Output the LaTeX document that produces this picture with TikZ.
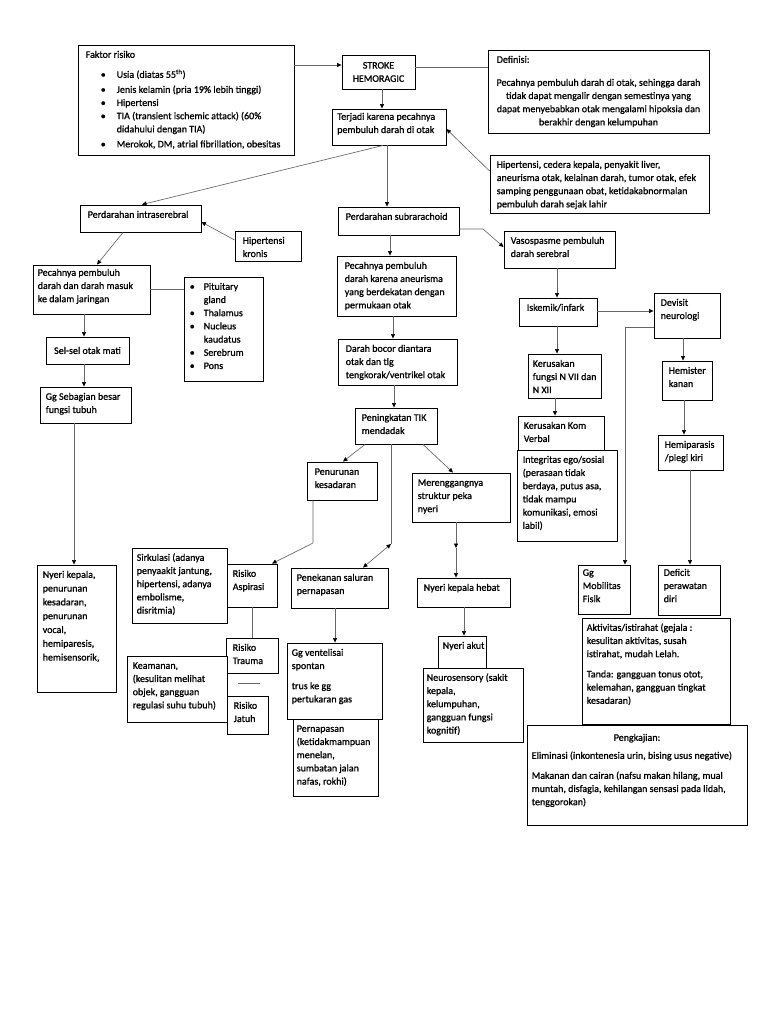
\documentclass[tikz,border=0pt]{standalone}
\usepackage{fontspec}
\setmainfont{Carlito}[FakeBold=0.9]
\usetikzlibrary{arrows.meta}
\newcommand\mytx[1]{\begin{tabular}[t]{@{}l@{}}#1\end{tabular}}
\newcommand\mytxc[1]{\begin{tabular}[t]{@{}c@{}}#1\end{tabular}}
\newcommand\mybul{\hspace*{15pt}\makebox[16pt][l]{\textbullet}}
\newcommand\myind{\hspace*{31pt}}
\newcommand\mypb{\makebox[14pt][l]{\textbullet}}
\newcommand\mypind{\hspace*{14pt}}
\newcommand\mybox[7][]{\node[box,minimum width={#5pt-#3pt},minimum height={#6pt-#4pt},label={[tl,#1]north west:{\mytx{#7}}}] (#2) at ({(#3+#5)/2},{(#4+#6)/2}) {};}
\begin{document}
\begin{tikzpicture}[x=1pt,y=-1pt,
  every node/.style={font=\fontsize{10}{13.2}\selectfont},
  box/.style={draw=black,line width=0.9pt,rectangle,inner sep=0pt,fill=white},
  tl/.style={anchor=north west,inner sep=0pt,xshift=7pt,yshift=-3.8pt},
  ln/.style={draw=black!60,line width=0.65pt},
  arr/.style={ln,-{Triangle[length=4.5pt,width=4pt,color=black]}},
  arr2/.style={ln,{Triangle[length=4.5pt,width=4pt,color=black]}-{Triangle[length=4.5pt,width=4pt,color=black]}}]
\fill[white] (0,0) rectangle (768,1024);
\useasboundingbox (0,0) rectangle (768,1024);

% top
\mybox[xshift=1pt]{faktor}{78}{45}{294}{155}{Faktor risiko\\[6.8pt]
\mybul Usia (diatas 55\textsuperscript{th})\\[1.8pt]
\mybul Jenis kelamin (pria 19\% lebih tinggi)\\
\mybul Hipertensi\\
\mybul TIA (transient ischemic attack) (60\%\\
\myind didahului dengan TIA)\\[1.8pt]
\mybul Merokok, DM, atrial fibrillation, obesitas}
\node[box,minimum width=73pt,minimum height=34pt,align=center] (stroke) at (378.5,72) {STROKE\\HEMORAGIC};
\node[box,minimum width=221pt,minimum height=83pt,
  label={[tl,xshift=2pt]north west:{\mytx{Definisi:}}},
  label={[anchor=north,inner sep=0pt,yshift=-26.8pt]north:{\mytxc{Pecahnya pembuluh darah di otak, sehingga darah\\
  tidak dapat mengalir dengan semestinya yang\\
  dapat menyebabkan otak mengalami hipoksia dan\\
  berakhir dengan kelumpuhan}}}] (defin) at (598.5,91.5) {};
\mybox[xshift=-1.5pt,yshift=2pt]{terjadi}{332}{109}{446}{145}{Terjadi karena pecahnya\\pembuluh darah di otak}
\mybox{hipert}{490}{155}{709}{213}{Hipertensi, cedera kepala, penyakit liver,\\
aneurisma otak, kelainan darah, tumor otak, efek\\
samping penggunaan obat, ketidakabnormalan\\
pembuluh darah sejak lahir}

% left column
\mybox[xshift=1pt]{intra}{80}{205}{201}{232}{Perdarahan intraserebral}
\mybox[xshift=1pt]{kronis}{235}{231}{301}{261}{Hipertensi\\kronis}
\mybox[xshift=-2pt,yshift=2pt]{pecah1}{33}{265}{150}{314}{Pecahnya pembuluh\\darah dan darah masuk\\ke dalam jaringan}
\mybox[xshift=-1pt]{pitu}{184}{277}{263}{381}{\mypb Pituitary\\\mypind gland\\\mypb Thalamus\\\mypb Nucleus\\\mypind kaudatus\\\mypb Serebrum\\\mypb Pons}
\node[box,minimum width=83pt,minimum height=27pt] (selsel) at (87.5,350.5) {Sel-sel otak mati};
\mybox[xshift=-1pt]{ggseb}{40}{387}{131}{423}{Gg Sebagian besar\\fungsi tubuh}
\mybox[xshift=-1pt]{nyerik}{37}{565}{116}{692}{Nyeri kepala,\\[0.6pt]penurunan\\[0.6pt]kesadaran,\\[0.6pt]penurunan\\[0.6pt]vocal,\\[0.6pt]hemiparesis,\\[0.6pt]hemisensorik,}

% middle column
\mybox[xshift=1pt]{subra}{338}{207}{459}{235}{Perdarahan subrarachoid}
\mybox[xshift=1pt]{pecah2}{337}{256}{456}{316}{Pecahnya pembuluh\\darah karena aneurisma\\yang berdekatan dengan\\permukaan otak}
\mybox[xshift=1pt]{bocor}{338}{339}{457}{385}{Darah bocor diantara\\otak dan tlg\\tengkorak/ventrikel otak}
\mybox{tik}{355}{408}{437}{444}{Peningkatan TIK\\mendadak}
\mybox[xshift=1pt]{penur}{307}{462}{377}{500}{Penurunan\\kesadaran}
\mybox[xshift=-1pt]{mereng}{412}{473}{510}{522}{Merenggangnya\\struktur peka\\nyeri}
\mybox{hebat}{417}{578}{510}{607}{Nyeri kepala hebat}
\mybox[xshift=-2pt]{akut}{438}{636}{486}{668}{Nyeri akut}
\mybox[xshift=-3pt]{neuro}{423}{668}{523}{742}{Neurosensory (sakit\\kepala,\\kelumpuhan,\\gangguan fungsi\\kognitif)}
\mybox[xshift=-1pt]{peneka}{291}{568}{388}{608}{Penekanan saluran\\pernapasan}
\mybox[xshift=-2pt]{ggvent}{287}{643}{382}{719}{Gg ventelisai\\spontan\\[7pt]trus ke gg\\pertukaran gas}
\mybox[xshift=-3pt]{perna}{293}{719}{378}{796}{Pernapasan\\(ketidakmampuan\\menelan,\\sumbatan jalan\\nafas, rokhi)}
\mybox[xshift=-1pt]{aspir}{227}{564}{277}{607}{Risiko\\Aspirasi}
\mybox[xshift=-2pt]{sirk}{132}{548}{227}{623}{Sirkulasi (adanya\\penyaakit jantung,\\hipertensi, adanya\\embolisme,\\disritmia)}
\mybox{trauma}{226}{638}{278}{673}{Risiko\\Trauma}
\mybox{jatuh}{227}{696}{268}{734}{Risiko\\Jatuh}
\mybox[xshift=-1pt]{keam}{127}{656}{227}{722}{Keamanan,\\(kesulitan melihat\\objek, gangguan\\regulasi suhu tubuh)}

% right column
\mybox{vaso}{504}{231}{615}{268}{Vasospasme pembuluh\\darah serebral}
\mybox[xshift=1pt]{iskem}{519}{298}{597}{326}{Iskemik/infark}
\mybox{devis}{654}{293}{720}{338}{Devisit\\neurologi}
\mybox[xshift=-2pt]{kerus}{528}{354}{601}{398}{Kerusakan\\fungsi N VII dan\\N XII}
\mybox[xshift=-1pt]{kom}{518}{416}{604}{450}{Kerusakan Kom\\Verbal}
\mybox[xshift=-1pt]{integ}{517}{450}{617}{541}{Integritas ego/sosial\\(perasaan tidak\\berdaya, putus asa,\\tidak mampu\\komunikasi, emosi\\labil)}
\mybox{hemis}{662}{361}{712}{400}{Hemister\\kanan}
\mybox{hemip}{658}{435}{723}{470}{Hemiparasis\\/plegi kiri}
\mybox[xshift=-2pt,yshift=2pt]{mobil}{578}{565}{630}{614}{Gg\\Mobilitas\\Fisik}
\mybox[xshift=-1pt,yshift=2pt]{defic}{658}{565}{720}{615}{Deficit\\perawatan\\diri}
\mybox[xshift=-2pt]{aktiv}{582}{618}{730}{724}{Aktivitas/istirahat (gejala :\\kesulitan aktivitas, susah\\istirahat, mudah Lelah.\\[7pt]Tanda: gangguan tonus otot,\\kelemahan, gangguan tingkat\\kesadaran)}
\node[box,minimum width=220pt,minimum height=100pt,
  label={[anchor=north,inner sep=0pt,yshift=-6.8pt]north:{\mytxc{Pengkajian:}}},
  label={[tl,xshift=-2pt,yshift=-21pt]north west:{\mytx{Eliminasi (inkontenesia urin, bising usus negative)\\[6.8pt]
  Makanan dan cairan (nafsu makan hilang, mual\\
  muntah, disfagia, kehilangan sensasi pada lidah,\\
  tenggorokan)}}}] (pengk) at (637,775) {};

% connectors
\draw[arr] (faktor.east |- 0,65) -- (stroke.west |- 0,65);
\draw[ln] (stroke.east |- 0,67) -- (defin.west |- 0,67);
\draw[arr] (stroke.south -| 382,0) -- (terjadi.north -| 382,0);
\draw[arr] (hipert.west |- 0,171) -- (terjadi.east |- 0,129);
\draw[arr] (terjadi.south -| 383,0) -- (intra.north -| 142,0);
\draw[arr] (terjadi.south -| 387,0) -- (subra.north -| 387,0);
\draw[arr] (kronis.west |- 0,240) -- (intra.east |- 0,222);
\draw[arr] (intra.south -| 123,0) -- (pecah1.north -| 97,0);
\draw[ln] (pecah1.east |- 0,289) -- (pitu.west |- 0,289);
\draw[arr] (pecah1.south -| 84,0) -- (selsel.north -| 84,0);
\draw[arr] (selsel.south -| 84,0) -- (ggseb.north -| 84,0);
\draw[arr] (ggseb.south -| 74,0) -- (nyerik.north -| 74,0);
\draw[arr] (subra.south -| 390,0) -- (pecah2.north -| 390,0);
\draw[arr] (pecah2.south -| 393,0) -- (bocor.north -| 393,0);
\draw[arr] (bocor.south -| 394,0) -- (tik.north -| 394,0);
\draw[arr] (tik.south -| 365,0) -- (penur.north -| 343,0);
\coordinate (c1) at (391,544);
\draw[ln] (tik.south -| 391,0) -- (c1);
\draw[arr2] (c1) -- (peneka.north -| 363,0);
\draw[arr] (tik.south -| 423,0) -- (mereng.north -| 453,0);
\coordinate (c2) at (456,548);
\draw[arr] (mereng.south -| 456,0) -- (c2);
\draw[arr] (c2) -- (hebat.north -| 456,0);
\draw[arr] (hebat.south -| 464,0) -- (akut.north -| 464,0);
\coordinate (c3) at (313,543);
\draw[arr] (penur.south -| 313,0) -- (c3) -- (aspir.north -| 272,0);
\draw[ln] (aspir.south) -- (trauma.north);
\draw[ln] (238,683) -- (260,683);
\draw[arr] (peneka.south -| 335,0) -- (ggvent.north -| 335,0);
\coordinate (c4) at (483,229);
\draw[arr] (subra.east |- c4) -- (c4) -- (vaso.west |- 0,247);
\draw[arr] (vaso.south -| 557,0) -- (iskem.north -| 557,0);
\draw[arr] (iskem.east |- 0,311) -- (devis.west |- 0,311);
\coordinate (c5) at (625,327);
\draw[arr] (devis.west |- c5) -- (c5) -- (mobil.north -| c5);
\draw[arr] (iskem.south -| 557,0) -- (kerus.north -| 557,0);
\draw[arr] (kerus.south -| 555,0) -- (kom.north -| 555,0);
\draw[arr] (devis.south -| 683,0) -- (hemis.north -| 683,0);
\draw[arr] (hemis.south -| 684,0) -- (hemip.north -| 684,0);
\draw[arr] (hemip.south -| 690,0) -- (defic.north -| 690,0);
\end{tikzpicture}
\end{document}
